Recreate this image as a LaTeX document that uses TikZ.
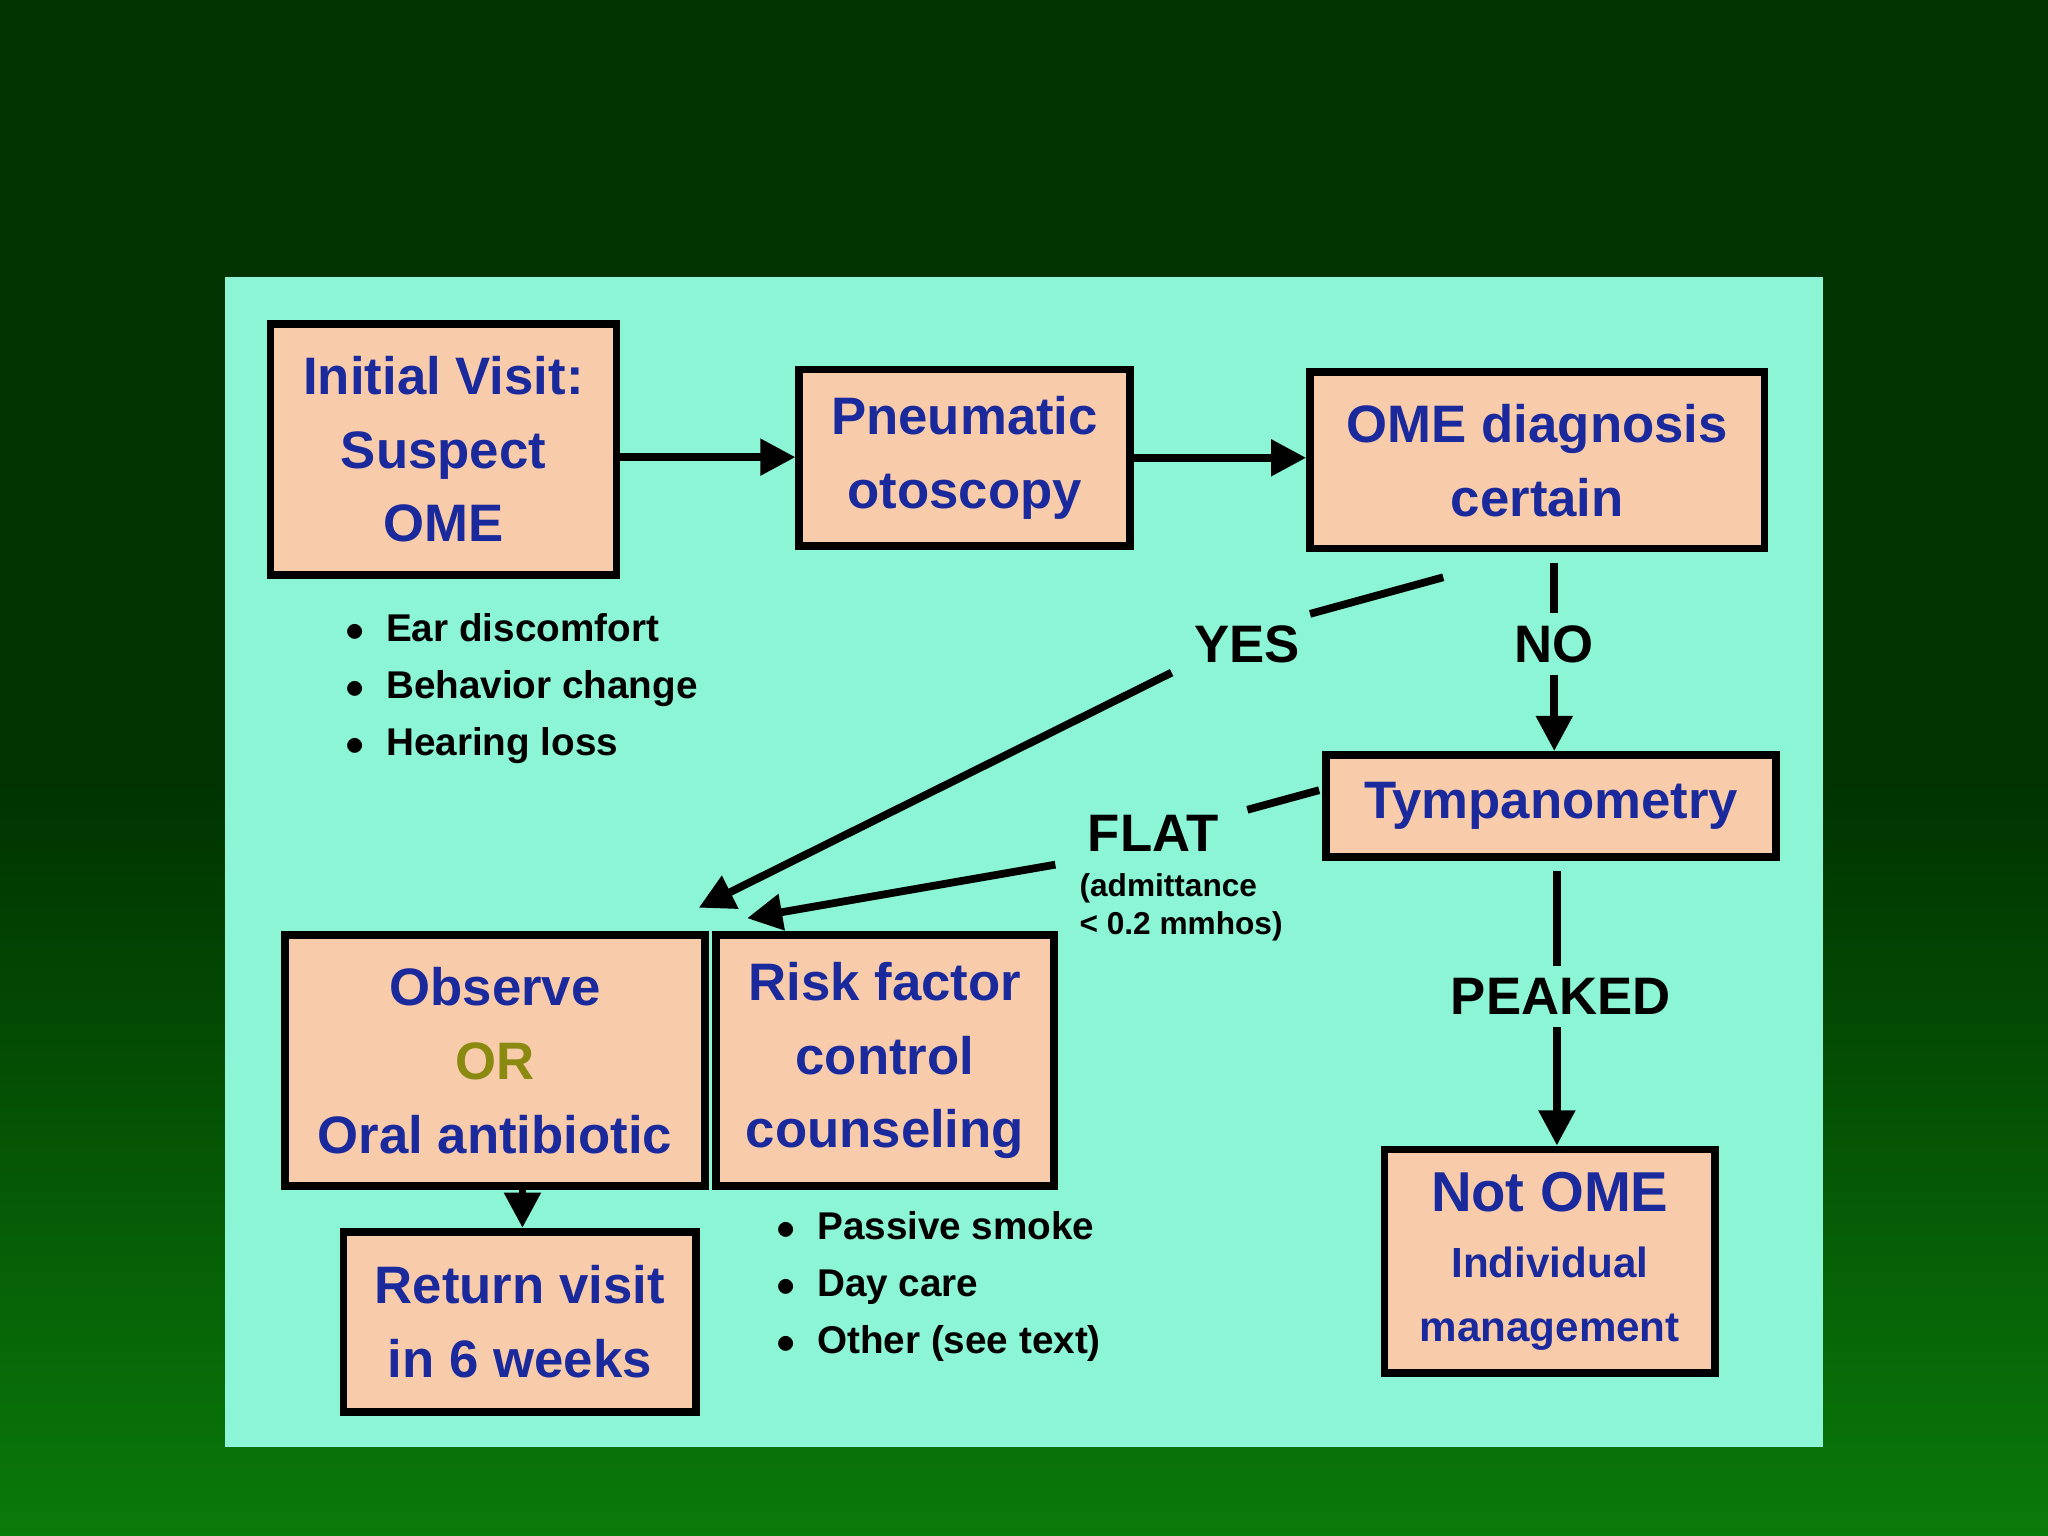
\documentclass[tikz,border=0pt]{standalone}
\usepackage{fontspec}
\setmainfont{Liberation Sans}
\usetikzlibrary{arrows.meta}
\definecolor{bgtop}{HTML}{003300}
\definecolor{bgbot}{HTML}{0A7A0A}
\definecolor{panel}{HTML}{8CF5D6}
\definecolor{peach}{HTML}{F8CBAA}
\definecolor{txtblue}{HTML}{1A2A9C}
\definecolor{olive}{HTML}{8A8A10}
\tikzset{
  box/.style={draw=black, line width=2.2pt, fill=peach, text=txtblue, font=\fontsize{15}{21}\selectfont\bfseries, align=center, inner sep=0pt},
  lab/.style={font=\fontsize{15}{18}\selectfont\bfseries, text=black},
  bul/.style={font=\fontsize{11}{16.2}\selectfont\bfseries, text=black, anchor=west, align=left},
  arr/.style={line width=2.2pt, -{Triangle[length=10pt,width=10pt]}},
  ln/.style={line width=2.2pt}
}
\begin{document}
\begin{tikzpicture}[x=0.013061cm, y=-0.013061cm]
	\useasboundingbox (0,0) rectangle (1568,1176);
	% background
	\fill[bgtop] (0,0) rectangle (1568,600);
	\shade[top color=bgtop, bottom color=bgbot] (0,600) rectangle (1568,1176);
	\fill[panel] (172,212) rectangle (1396,1108);

	% boxes
	\node[box, minimum width=265*0.013061cm, minimum height=192*0.013061cm] (init) at (339.5,344) {Initial Visit:\\Suspect\\OME};
	\node[box, minimum width=253*0.013061cm, minimum height=135*0.013061cm] (pneu) at (738.5,350.5) {Pneumatic\\otoscopy};
	\node[box, minimum width=348*0.013061cm, minimum height=135*0.013061cm] (diag) at (1177,352.5) {OME diagnosis\\certain};
	\node[box, minimum width=345*0.013061cm, minimum height=78*0.013061cm] (tymp) at (1187.5,617) {Tympanometry};
	\node[box, minimum width=322*0.013061cm, minimum height=192*0.013061cm] (obs) at (379,812) {Observe\\\textcolor{olive}{OR}\\Oral antibiotic};
	\node[box, minimum width=259*0.013061cm, minimum height=192*0.013061cm] (risk) at (677.5,812) {Risk factor\\control\\counseling};
	\node[box, minimum width=270*0.013061cm, minimum height=138*0.013061cm] (ret) at (398,1012) {Return visit\\in 6 weeks};
	\node[box, font=\fontsize{12}{18}\selectfont\bfseries, minimum width=253*0.013061cm, minimum height=171*0.013061cm] (not) at (1186.5,965.5) {{\fontsize{16}{18}\selectfont Not OME}\\[1pt]Individual\\management};

	% bullets
	\node[bul] (b1) at (255,527) {$\bullet$\ \ Ear discomfort\\$\bullet$\ \ Behavior change\\$\bullet$\ \ Hearing loss};
	\node[bul] (b2) at (585,985) {$\bullet$\ \ Passive smoke\\$\bullet$\ \ Day care\\$\bullet$\ \ Other (see text)};

	% labels
	\node[lab] (yes) at (955,493) {YES};
	\node[lab] (no) at (1190,493) {NO};
	\node[lab] (flat) at (883,638) {FLAT};
	\node[font=\fontsize{9}{11}\selectfont\bfseries, anchor=north west, align=left, inner sep=0pt] (adm) at (826,668) {(admittance\\< 0.2 mmhos)};
	\node[lab] (peak) at (1195,763) {PEAKED};

	% connectors
	\coordinate (dy) at (1105,442);
	\coordinate (yt) at (535,695);
	\coordinate (ft) at (572,703);
	\draw[arr] (init.east |- 0,350) -- (pneu.west |- 0,350);
	\draw[arr] (pneu.east) -- (diag.west |- pneu.east);
	\draw[ln] (dy) -- (1003,470);
	\draw[arr] (897,515) -- (yt);
	\draw[ln] (diag.south -| no) ++(0,8) -- (no.north);
	\draw[arr] (no.south) -- (tymp.north -| no);
	\draw[ln] (1010,605) -- (955,620);
	\draw[arr] (808,662) -- (ft);
	\draw[ln] (1192,667) -- (peak.north -| 1192,0);
	\draw[arr] (peak.south -| 1192,0) -- (not.north -| 1192,0);
	\draw[arr] (obs.south -| 400,0) -- (ret.north -| 400,0);
\end{tikzpicture}
\end{document}
